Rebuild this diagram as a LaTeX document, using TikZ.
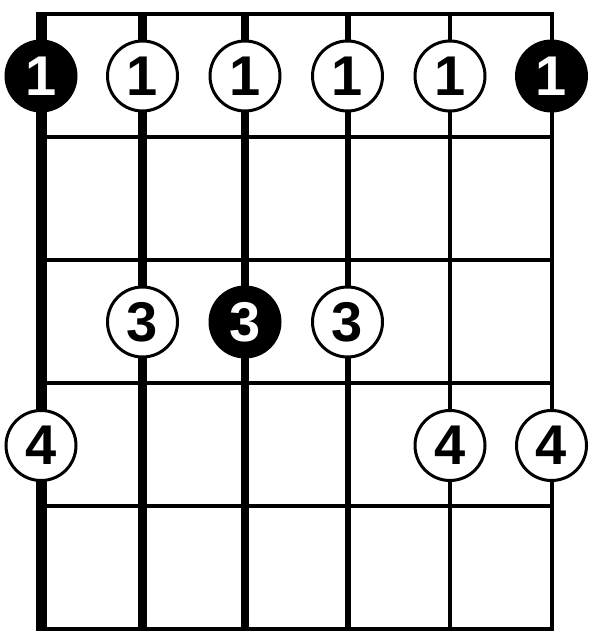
\documentclass[tikz,border=0pt]{standalone}
\usepackage{fontspec}
\setmainfont{Liberation Sans}
\begin{document}
\begin{tikzpicture}[x=1pt,y=-1pt,
  fretline/.style={line width=4pt},
  note/.style={circle,draw=black,line width=3pt,fill=white,minimum size=70pt,inner sep=0pt,
    font=\fontsize{56}{56}\selectfont\bfseries},
  rootnote/.style={note,fill=black,text=white}]
\useasboundingbox (0,0) rectangle (600,644);
% string x positions
\foreach \i/\x/\w in {1/41/11,2/142.5/9,3/245/7.5,4/347.5/6,5/450/4,6/551.5/4}{
  \coordinate (s\i t) at (\x,12.5);
  \coordinate (s\i b) at (\x,631);
}
% frets
\foreach \j/\y in {0/14.5,1/137,2/260,3/383,4/506,5/629}{
  \coordinate (f\j l) at (39,\y);
  \coordinate (f\j r) at (553.5,\y);
  \draw[fretline] (f\j l) -- (f\j r);
}
\foreach \i/\w in {1/11,2/9,3/7.5,4/6,5/4,6/4}{
  \draw[line width=\w pt] (s\i t) -- (s\i b);
}
% notes
\node[rootnote] (n11) at (41,76) {1};
\node[note] (n12) at (142.5,76) {1};
\node[note] (n13) at (245,76) {1};
\node[note] (n14) at (347.5,76) {1};
\node[note] (n15) at (450,76) {1};
\node[rootnote] (n16) at (551.5,76) {1};
\node[note] (n32) at (142.5,322) {3};
\node[rootnote] (n33) at (245,322) {3};
\node[note] (n34) at (347.5,322) {3};
\node[note] (n41) at (41,445.5) {4};
\node[note] (n45) at (450,445.5) {4};
\node[note] (n46) at (551.5,445.5) {4};
\end{tikzpicture}
\end{document}
